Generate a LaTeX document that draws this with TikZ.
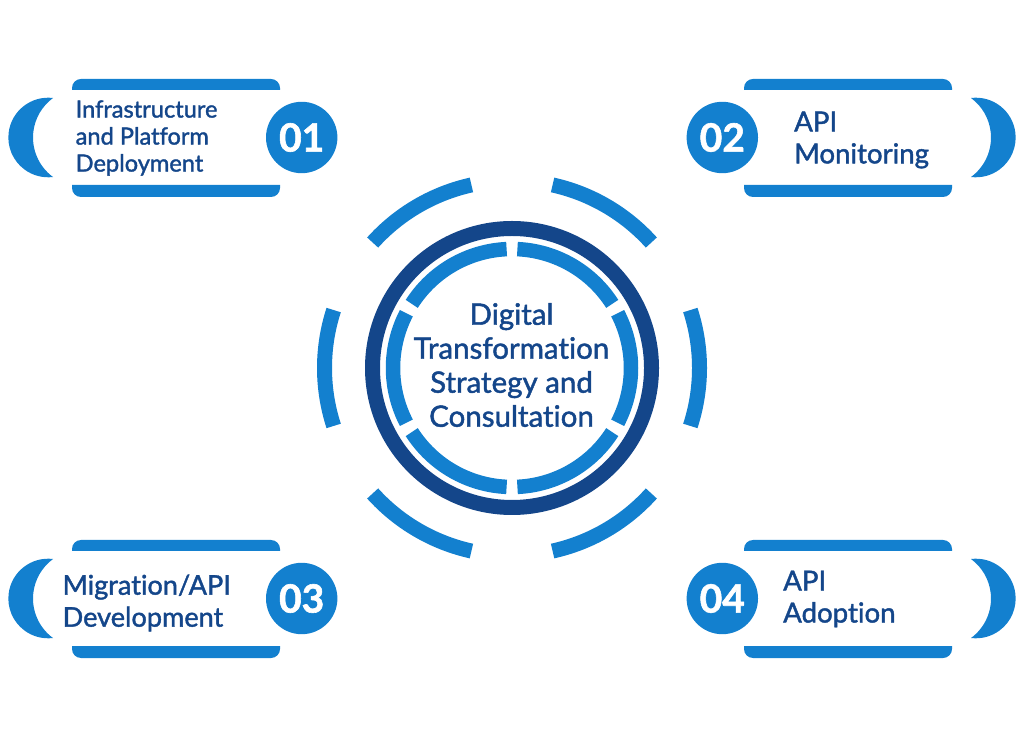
\documentclass[tikz,border=0pt]{standalone}
\usepackage{fontspec}
\setmainfont{Lato}[Ligatures=NoCommon,FakeBold=1.5,BoldFeatures={FakeBold=1.5}]
\definecolor{lightblue}{HTML}{1380CF}
\definecolor{darkblue}{HTML}{14468A}
\tikzset{
  outerarc/.style={draw=lightblue, line width=15pt},
  innerarc/.style={draw=lightblue, line width=14.5pt},
  badge/.style={circle, fill=lightblue, text=white, minimum size=71.4pt, inner sep=0pt, font=\fontsize{39}{39}\selectfont\bfseries},
  label/.style={anchor=west, align=left, inner sep=0pt, text=darkblue},
  bluebar/.style={fill=lightblue}
}
\begin{document}
\begin{tikzpicture}[x=1pt,y=1pt]
\useasboundingbox (0,0) rectangle (1024,736);
\coordinate (hub) at (512,368);
% thick ring and centre text
\draw[darkblue, line width=15pt] (hub) circle [radius=139.5];
\node [align=center, inner sep=0pt, text=darkblue, font=\fontsize{29.5}{34}\selectfont] (title) at (511.5,371) {Digital\\Transformation\\Strategy and\\Consultation};
% inner segments
\draw[innerarc] ([shift={(32.6:119)}]hub) arc [start angle=32.6, end angle=87.4, radius=119];
\draw[innerarc] ([shift={(92.6:119)}]hub) arc [start angle=92.6, end angle=147.4, radius=119];
\draw[innerarc] ([shift={(152.6:119)}]hub) arc [start angle=152.6, end angle=207.4, radius=119];
\draw[innerarc] ([shift={(212.6:119)}]hub) arc [start angle=212.6, end angle=267.4, radius=119];
\draw[innerarc] ([shift={(272.6:119)}]hub) arc [start angle=272.6, end angle=327.4, radius=119];
\draw[innerarc] ([shift={(332.6:119)}]hub) arc [start angle=332.6, end angle=387.4, radius=119];
% outer segments
\draw[outerarc] ([shift={(-18:187.5)}]hub) arc [start angle=-18, end angle=18, radius=187.5];
\draw[outerarc] ([shift={(42:187.5)}]hub) arc [start angle=42, end angle=77.5, radius=187.5];
\draw[outerarc] ([shift={(102.5:187.5)}]hub) arc [start angle=102.5, end angle=138, radius=187.5];
\draw[outerarc] ([shift={(162:187.5)}]hub) arc [start angle=162, end angle=198, radius=187.5];
\draw[outerarc] ([shift={(222:187.5)}]hub) arc [start angle=222, end angle=257.5, radius=187.5];
\draw[outerarc] ([shift={(282.5:187.5)}]hub) arc [start angle=282.5, end angle=318, radius=187.5];
% 01
\fill[bluebar] (72,646) [rounded corners=9pt] -- (72,657) -- (280,657) [sharp corners] -- (280,646) -- cycle;
\fill[bluebar] (72,551) [rounded corners=9pt] -- (72,539) -- (280,539) [sharp corners] -- (280,551) -- cycle;
\fill[bluebar] (53,638) arc [start angle=83, end angle=277, radius=39.8] arc [start angle=233.7, end angle=126.3, radius=49] -- cycle;
\node [badge] (num01) at (301.7,598.5) {01};
\node [label, font=\fontsize{23.6}{27}\selectfont] (text01) at (75.5,598) {Infrastructure\\and Platform\\Deployment};
% 02
\fill[bluebar] (952,646) [rounded corners=9pt] -- (952,657) -- (744,657) [sharp corners] -- (744,646) -- cycle;
\fill[bluebar] (952,551) [rounded corners=9pt] -- (952,539) -- (744,539) [sharp corners] -- (744,551) -- cycle;
\fill[bluebar] (971,638) arc [start angle=97, end angle=-97, radius=39.8] arc [start angle=-53.7, end angle=53.7, radius=49] -- cycle;
\node [badge] (num02) at (722.3,598.5) {02};
\node [label, font=\fontsize{27.6}{32}\selectfont] (text02) at (794,596) {API\\Monitoring};
% 03
\fill[bluebar] (72,185) [rounded corners=9pt] -- (72,196) -- (280,196) [sharp corners] -- (280,185) -- cycle;
\fill[bluebar] (72,90) [rounded corners=9pt] -- (72,78) -- (280,78) [sharp corners] -- (280,90) -- cycle;
\fill[bluebar] (53,177) arc [start angle=83, end angle=277, radius=39.8] arc [start angle=233.7, end angle=126.3, radius=49] -- cycle;
\node [badge] (num03) at (301.7,137.5) {03};
\node [label, font=\fontsize{27.1}{32}\selectfont] (text03) at (62.5,133) {Migration/API\\Development};
% 04
\fill[bluebar] (952,185) [rounded corners=9pt] -- (952,196) -- (744,196) [sharp corners] -- (744,185) -- cycle;
\fill[bluebar] (952,90) [rounded corners=9pt] -- (952,78) -- (744,78) [sharp corners] -- (744,90) -- cycle;
\fill[bluebar] (971,177) arc [start angle=97, end angle=-97, radius=39.8] arc [start angle=-53.7, end angle=53.7, radius=49] -- cycle;
\node [badge] (num04) at (722.3,137.5) {04};
\node [label, font=\fontsize{27.6}{32}\selectfont] (text04) at (783,137) {API\\Adoption};
\end{tikzpicture}
\end{document}
